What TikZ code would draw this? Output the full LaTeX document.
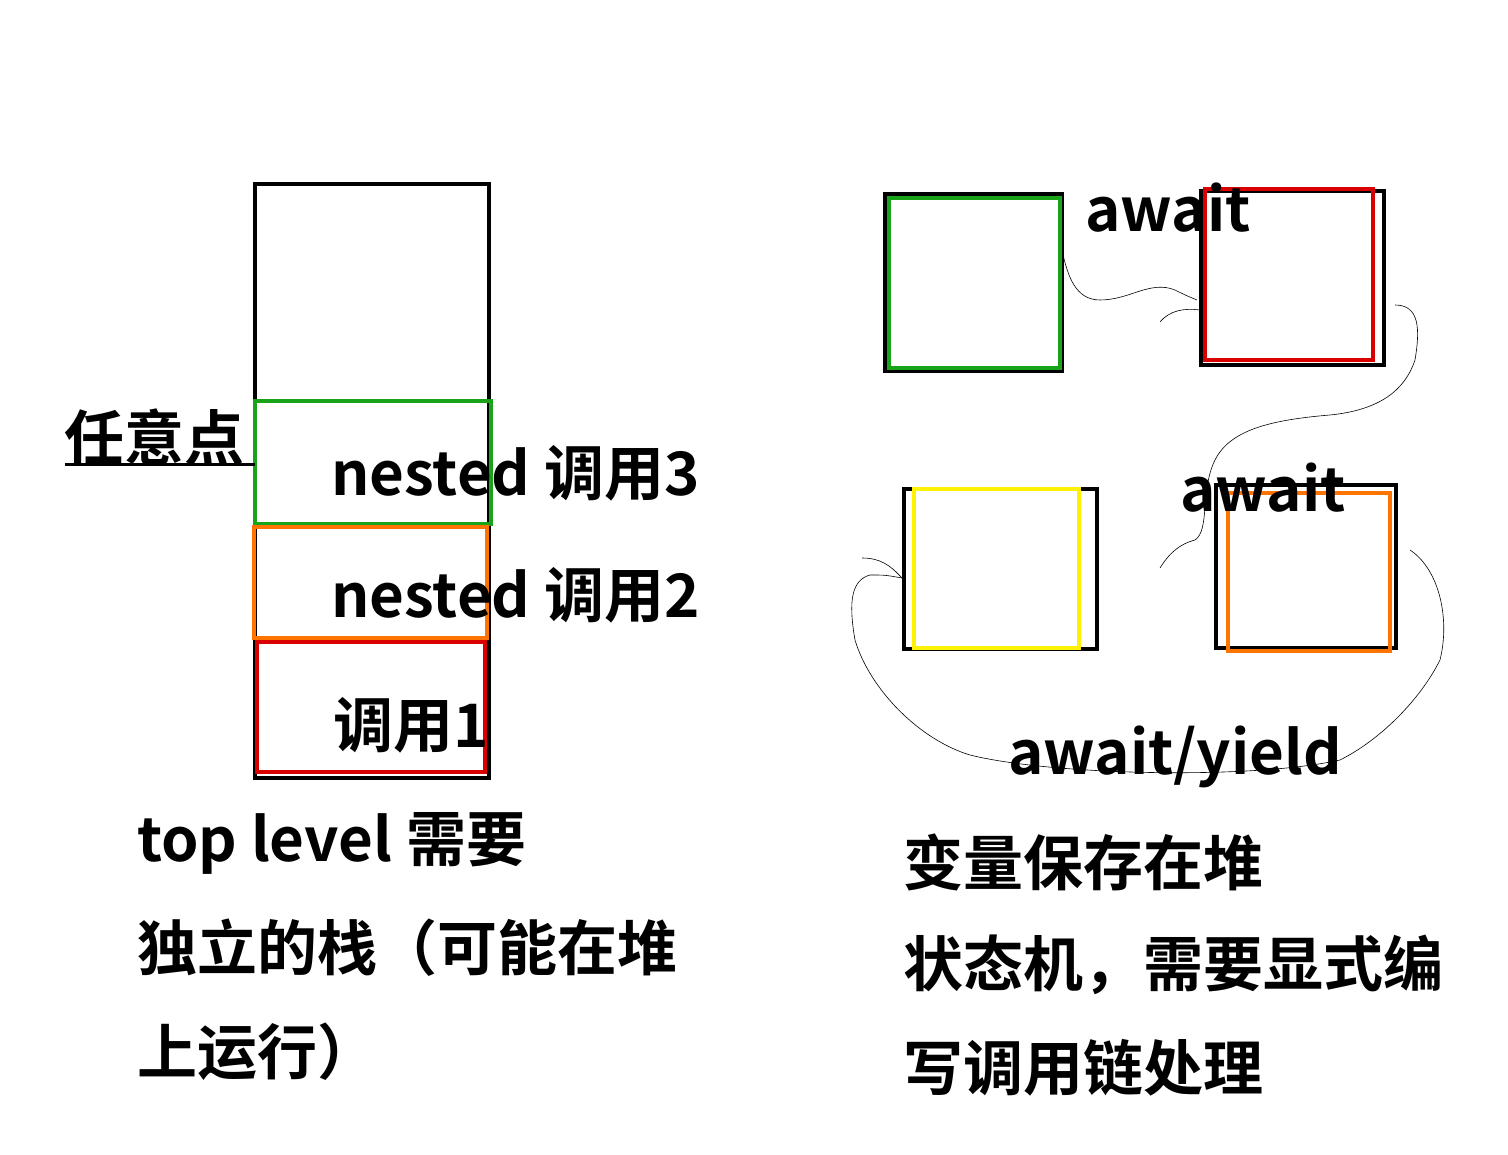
\documentclass[tikz,border=0pt]{standalone}
\usepackage{fontspec}
\setmainfont{Noto Sans CJK SC}[BoldFont={* Bold}]
\begin{document}
\begin{tikzpicture}[x=1pt,y=-1pt,
  box/.style={line width=3.5pt},
  t/.style={font=\fontsize{60}{66}\selectfont\bfseries,anchor=west,inner sep=0pt},
  thin/.style={line width=0.6pt}]
\useasboundingbox (0,0) rectangle (1508,1155);
% left stack
\draw[box] (255,184) rectangle (489,778);
\draw[box,green!60!black!90] (255,401) rectangle (491,524);
\draw[box,orange!90!red] (254,527) rectangle (487,638);
\draw[box,red!85!black] (257,642) rectangle (485,772);
\node[t] (any) at (64,437) {任意点};
\draw[line width=3pt] (65,465) -- (255,465);
\node[t] (n3) at (331,473) {nested 调用3};
\node[t] (n2) at (331,595) {nested 调用2};
\node[t] (n1) at (333,725) {调用1};
\node[t] (l1) at (137,843) {top level 需要};
\node[t] (l2) at (137,948) {独立的栈（可能在堆};
\node[t] (l3) at (137,1052) {上运行）};
% right
\draw[box] (885,194) rectangle (1062,371);
\draw[box,green!60!black!90] (889,198) rectangle (1060,368);
\draw[box] (1201,191) rectangle (1384,365);
\draw[box,red!85!black] (1205,189) rectangle (1373,360);
\draw[box] (904,489) rectangle (1097,649);
\draw[box,yellow] (914,489) rectangle (1079,648);
\draw[box] (1216,485) rectangle (1396,648);
\draw[box,orange!90!red] (1228,493) rectangle (1390,651);
\node[t] (a1) at (1085,208) {await};
\node[t] (a2) at (1180,488) {await};
\node[t] (a3) at (1008,757) {await/yield};
\node[t] (r1) at (903,862) {变量保存在堆};
\node[t] (r2) at (903,965) {状态机，需要显式编};
\node[t] (r3) at (903,1068) {写调用链处理};
% curves
\draw[thin] (1063,255) .. controls (1068,275) and (1075,300) .. (1100,300)
  .. controls (1130,300) and (1150,280) .. (1175,290) .. controls (1185,295) .. (1197,300);
\draw[thin] (1160,322) .. controls (1170,310) and (1185,308) .. (1200,310);
\draw[thin] (1395,305) .. controls (1420,305) and (1420,330) .. (1415,360)
  .. controls (1405,390) and (1380,410) .. (1330,415)
  .. controls (1270,420) and (1230,430) .. (1215,460)
  .. controls (1200,490) and (1210,530) .. (1195,540)
  .. controls (1175,545) and (1165,560) .. (1160,568);
\draw[thin] (1410,550) .. controls (1440,570) and (1450,620) .. (1440,660)
  .. controls (1420,700) and (1380,740) .. (1340,760)
  .. controls (1250,780) and (1050,775) .. (970,755)
  .. controls (920,740) and (870,690) .. (855,640)
  .. controls (848,600) and (852,580) .. (870,575)
  .. controls (885,575) .. (902,578);
\draw[thin] (862,558) .. controls (880,558) and (890,565) .. (902,578);
\end{tikzpicture}
\end{document}
